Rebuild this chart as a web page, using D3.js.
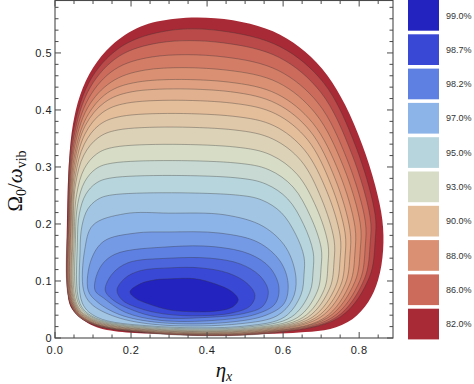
<!DOCTYPE html>
<html>
<head>
<meta charset="utf-8">
<script src="https://cdn.jsdelivr.net/npm/d3@7"></script>
<style>
  body { margin: 0; background: #fff; }
  svg { display: block; }
</style>
</head>
<body>
<div id="chart"></div>
<script>
// fidelity (%) at each contour line, outermost first
const levelValues = [82, 84, 86, 87, 88, 88.7, 89.4, 90, 91, 92, 93, 94, 95, 96, 97, 97.6, 98.2, 98.45, 98.7, 99];

// contour lines, [eta_x, Omega0/omega_vib], same order as levelValues
const contourRings = [
  [[0.513,0.0077],[0.250,0.0077],[0.158,0.012],[0.118,0.017],[0.087,0.026],[0.061,0.039],[0.040,0.056],[0.033,0.084],[0.031,0.154],[0.032,0.225],[0.037,0.312],[0.047,0.374],[0.066,0.426],[0.100,0.474],[0.150,0.514],[0.224,0.546],[0.316,0.560],[0.421,0.561],[0.513,0.551],[0.592,0.532],[0.658,0.502],[0.716,0.461],[0.763,0.409],[0.808,0.339],[0.842,0.268],[0.861,0.207],[0.863,0.154],[0.850,0.102],[0.824,0.063],[0.782,0.033],[0.724,0.016],[0.658,0.0105],[0.592,0.0079]],
  [[0.566,0.0084],[0.250,0.0084],[0.088,0.027],[0.042,0.056],[0.034,0.221],[0.048,0.362],[0.097,0.457],[0.179,0.513],[0.297,0.539],[0.434,0.539],[0.592,0.511],[0.706,0.448],[0.791,0.336],[0.842,0.216],[0.842,0.172],[0.827,0.107],[0.750,0.037]],
  [[0.561,0.0089],[0.250,0.0089],[0.089,0.027],[0.043,0.056],[0.035,0.218],[0.049,0.351],[0.093,0.440],[0.168,0.494],[0.276,0.518],[0.439,0.518],[0.590,0.492],[0.699,0.431],[0.780,0.324],[0.829,0.211],[0.829,0.167],[0.814,0.104],[0.739,0.036]],
  [[0.555,0.0096],[0.250,0.0096],[0.091,0.028],[0.044,0.057],[0.037,0.214],[0.049,0.338],[0.089,0.421],[0.157,0.471],[0.255,0.493],[0.445,0.493],[0.588,0.469],[0.692,0.412],[0.769,0.312],[0.816,0.205],[0.816,0.161],[0.802,0.101],[0.729,0.036]],
  [[0.550,0.0104],[0.250,0.0104],[0.092,0.028],[0.046,0.057],[0.038,0.211],[0.049,0.326],[0.086,0.404],[0.148,0.449],[0.237,0.470],[0.450,0.470],[0.587,0.448],[0.685,0.394],[0.759,0.300],[0.803,0.200],[0.803,0.156],[0.789,0.099],[0.718,0.036]],
  [[0.545,0.0111],[0.250,0.0111],[0.093,0.029],[0.048,0.057],[0.040,0.207],[0.050,0.315],[0.083,0.387],[0.138,0.430],[0.218,0.449],[0.455,0.449],[0.584,0.428],[0.678,0.377],[0.748,0.289],[0.789,0.195],[0.789,0.151],[0.776,0.096],[0.708,0.035]],
  [[0.539,0.0119],[0.250,0.0119],[0.094,0.029],[0.049,0.058],[0.042,0.204],[0.051,0.305],[0.080,0.373],[0.130,0.413],[0.203,0.432],[0.461,0.432],[0.583,0.411],[0.671,0.363],[0.737,0.279],[0.776,0.189],[0.776,0.147],[0.763,0.094],[0.697,0.036]],
  [[0.534,0.0128],[0.250,0.0128],[0.096,0.030],[0.051,0.058],[0.043,0.200],[0.052,0.294],[0.079,0.358],[0.124,0.395],[0.189,0.412],[0.466,0.412],[0.581,0.393],[0.664,0.348],[0.726,0.269],[0.763,0.184],[0.763,0.144],[0.751,0.092],[0.687,0.036]],
  [[0.529,0.0139],[0.250,0.0139],[0.097,0.031],[0.053,0.058],[0.046,0.196],[0.053,0.282],[0.077,0.340],[0.117,0.374],[0.176,0.389],[0.468,0.389],[0.577,0.372],[0.656,0.330],[0.715,0.257],[0.750,0.179],[0.750,0.140],[0.738,0.090],[0.676,0.036]],
  [[0.524,0.0149],[0.250,0.0149],[0.099,0.032],[0.055,0.059],[0.048,0.193],[0.054,0.269],[0.076,0.321],[0.113,0.351],[0.166,0.365],[0.471,0.365],[0.573,0.349],[0.647,0.311],[0.701,0.244],[0.734,0.172],[0.734,0.135],[0.723,0.088],[0.664,0.036]],
  [[0.518,0.0161],[0.250,0.0161],[0.101,0.033],[0.058,0.059],[0.051,0.186],[0.057,0.252],[0.077,0.297],[0.110,0.323],[0.158,0.335],[0.474,0.335],[0.568,0.321],[0.637,0.287],[0.688,0.228],[0.718,0.165],[0.718,0.130],[0.708,0.085],[0.652,0.036]],
  [[0.513,0.0175],[0.250,0.0175],[0.104,0.034],[0.062,0.060],[0.054,0.179],[0.060,0.236],[0.078,0.274],[0.108,0.297],[0.153,0.307],[0.476,0.307],[0.563,0.295],[0.626,0.265],[0.672,0.213],[0.700,0.158],[0.700,0.125],[0.690,0.082],[0.638,0.036]],
  [[0.508,0.0193],[0.250,0.0193],[0.107,0.035],[0.066,0.060],[0.059,0.168],[0.064,0.218],[0.081,0.252],[0.109,0.272],[0.150,0.281],[0.476,0.281],[0.555,0.270],[0.612,0.244],[0.654,0.199],[0.679,0.151],[0.679,0.119],[0.670,0.080],[0.622,0.037]],
  [[0.503,0.0211],[0.250,0.0211],[0.112,0.036],[0.072,0.061],[0.066,0.154],[0.071,0.197],[0.086,0.226],[0.112,0.243],[0.150,0.251],[0.474,0.251],[0.544,0.242],[0.595,0.220],[0.633,0.182],[0.655,0.142],[0.655,0.112],[0.647,0.076],[0.604,0.037]],
  [[0.075,0.084],[0.078,0.154],[0.100,0.198],[0.184,0.218],[0.300,0.219],[0.447,0.216],[0.547,0.196],[0.608,0.158],[0.634,0.104],[0.624,0.067],[0.584,0.039],[0.487,0.025],[0.276,0.023],[0.160,0.037],[0.095,0.060]],
  [[0.087,0.084],[0.095,0.137],[0.129,0.170],[0.211,0.184],[0.300,0.186],[0.434,0.184],[0.534,0.168],[0.592,0.135],[0.613,0.096],[0.603,0.061],[0.555,0.040],[0.447,0.027],[0.276,0.027],[0.170,0.041],[0.110,0.064]],
  [[0.105,0.084],[0.118,0.123],[0.158,0.147],[0.300,0.160],[0.421,0.160],[0.513,0.147],[0.566,0.123],[0.589,0.089],[0.579,0.060],[0.530,0.042],[0.421,0.031],[0.276,0.031],[0.185,0.045],[0.128,0.070]],
  [[0.132,0.084],[0.150,0.112],[0.192,0.132],[0.300,0.140],[0.408,0.140],[0.487,0.130],[0.539,0.109],[0.561,0.082],[0.547,0.056],[0.497,0.043],[0.395,0.036],[0.276,0.036],[0.200,0.050],[0.150,0.068]],
  [[0.163,0.084],[0.184,0.105],[0.224,0.118],[0.300,0.123],[0.382,0.123],[0.455,0.114],[0.505,0.096],[0.526,0.075],[0.513,0.056],[0.466,0.044],[0.382,0.039],[0.289,0.042],[0.218,0.053],[0.176,0.067]],
  [[0.197,0.081],[0.224,0.095],[0.263,0.102],[0.308,0.104],[0.368,0.104],[0.421,0.095],[0.466,0.081],[0.482,0.067],[0.466,0.054],[0.421,0.047],[0.368,0.046],[0.303,0.049],[0.245,0.060],[0.211,0.070]]
];

// legend, top to bottom
const legendValues = [99.0, 98.7, 98.2, 97.0, 95.0, 93.0, 90.0, 88.0, 86.0, 82.0];
const legendColors = ['#2323bf', '#3a48d6', '#5d80e2', '#8db4e8', '#b7d5dd', '#d6dcc6', '#e4bd9a', '#da9072', '#cc6a5c', '#a82a36'];

const xTicks = [0, 0.2, 0.4, 0.6, 0.8];
const xTickLabels = ['0.0', '0.2', '0.4', '0.6', '0.8'];
const yTicks = [0, 0.1, 0.2, 0.3, 0.4, 0.5];
const yTickLabels = ['0', '0.1', '0.2', '0.3', '0.4', '0.5'];

// Dimensions
let dimensions = {
    width: 474,
    height: 384,
    margin: { top: 0.5, left: 55 },
    ctrWidth: 338,
    ctrHeight: 337.5
}

const svg = d3.select('#chart')
    .append('svg')
    .attr('width', dimensions.width)
    .attr('height', dimensions.height)

svg.append('rect')
    .attr('width', dimensions.width)
    .attr('height', dimensions.height)
    .attr('fill', '#fff')

const xScale = d3.scaleLinear()
    .domain([0, 0.889])
    .range([dimensions.margin.left, dimensions.margin.left + dimensions.ctrWidth])
const yScale = d3.scaleLinear()
    .domain([0, 0.592])
    .range([dimensions.margin.top + dimensions.ctrHeight, dimensions.margin.top])

const colorScale = d3.scaleLinear()
    .domain(legendValues.slice().reverse())
    .range(legendColors.slice().reverse())
    .interpolate(d3.interpolateRgb)

svg.append('clipPath').attr('id', 'plotClip')
  .append('rect')
    .attr('x', xScale(0)).attr('y', yScale(0.592))
    .attr('width', dimensions.ctrWidth).attr('height', dimensions.ctrHeight)

// filled contour bands, painted outside-in
const ringLine = d3.line()
    .x(d => xScale(d[0]))
    .y(d => yScale(d[1]))
    .curve(d3.curveCatmullRomClosed.alpha(0.5))

svg.append('g')
    .attr('clip-path', 'url(#plotClip)')
  .selectAll('path')
    .data(contourRings)
    .join('path')
    .attr('d', ringLine)
    .attr('fill', (d, i) => colorScale(levelValues[i]))
    .attr('stroke', (d, i) => i === 0 ? 'none' : '#333')
    .attr('stroke-opacity', 0.55)
    .attr('stroke-width', 0.65)

// frame and inward ticks on all four sides
const frameColor = '#4a4a4a'
const axes = svg.append('g').attr('stroke', frameColor).attr('fill', 'none')
axes.append('rect')
    .attr('x', xScale(0)).attr('y', yScale(0.592))
    .attr('width', dimensions.ctrWidth).attr('height', dimensions.ctrHeight)
    .attr('stroke-width', 1.1)

const xMinor = xScale.ticks(18).filter(t => !xTicks.some(v => Math.abs(v - t) < 1e-6))
const yMinor = yScale.ticks(30).filter(t => !yTicks.some(v => Math.abs(v - t) < 1e-6))
const xAll = xTicks.map(v => [v, 6]).concat(xMinor.map(v => [v, 3.5]))
const yAll = yTicks.map(v => [v, 6]).concat(yMinor.map(v => [v, 3.5]))

axes.selectAll('line.xb').data(xAll).join('line').attr('class', 'xb')
    .attr('x1', d => xScale(d[0])).attr('x2', d => xScale(d[0]))
    .attr('y1', yScale(0)).attr('y2', d => yScale(0) - d[1])
axes.selectAll('line.xt').data(xAll).join('line').attr('class', 'xt')
    .attr('x1', d => xScale(d[0])).attr('x2', d => xScale(d[0]))
    .attr('y1', yScale(0.592)).attr('y2', d => yScale(0.592) + d[1])
axes.selectAll('line.yl').data(yAll).join('line').attr('class', 'yl')
    .attr('y1', d => yScale(d[0])).attr('y2', d => yScale(d[0]))
    .attr('x1', xScale(0)).attr('x2', d => xScale(0) + d[1])
axes.selectAll('line.yr').data(yAll).join('line').attr('class', 'yr')
    .attr('y1', d => yScale(d[0])).attr('y2', d => yScale(d[0]))
    .attr('x1', xScale(0.889)).attr('x2', d => xScale(0.889) - d[1])

const labelFont = '"Liberation Sans", Arial, sans-serif'
svg.append('g').selectAll('text').data(xTicks).join('text')
    .attr('x', d => xScale(d))
    .attr('y', 354)
    .attr('text-anchor', 'middle')
    .style('font-family', labelFont).style('font-size', '11px')
    .style('letter-spacing', '0.5px').attr('fill', '#222')
    .text((d, i) => xTickLabels[i])
svg.append('g').selectAll('text').data(yTicks).join('text')
    .attr('x', 52)
    .attr('y', d => yScale(d))
    .attr('dy', '0.36em')
    .attr('text-anchor', 'end')
    .style('font-family', labelFont).style('font-size', '11px')
    .style('letter-spacing', '0.5px').attr('fill', '#222')
    .text((d, i) => yTickLabels[i])

// axis titles
const serif = '"Liberation Serif", "DejaVu Serif", serif'
const xTitle = svg.append('text')
    .attr('x', 224).attr('y', 377)
    .attr('text-anchor', 'middle')
    .style('font-family', serif).style('font-size', '21px').attr('fill', '#111')
xTitle.append('tspan').style('font-style', 'italic').text('η')
xTitle.append('tspan').style('font-style', 'italic').style('font-size', '14px').attr('dy', 4).text('x')

const yTitle = svg.append('text')
    .attr('transform', 'translate(22,181) rotate(-90)')
    .attr('text-anchor', 'middle')
    .style('font-family', serif).style('font-size', '21px').attr('fill', '#111')
yTitle.append('tspan').text('Ω')
yTitle.append('tspan').style('font-size', '14px').attr('dy', 4).text('0')
yTitle.append('tspan').attr('dy', -4).text('/')
yTitle.append('tspan').style('font-style', 'italic').text('ω')
yTitle.append('tspan').style('font-size', '14px').attr('dy', 4).text('vib')

// legend
const legend = svg.append('g')
legend.selectAll('rect').data(legendValues).join('rect')
    .attr('x', 408).attr('y', (d, i) => i * 34.3)
    .attr('width', 31).attr('height', 30.7)
    .attr('fill', (d, i) => legendColors[i])
legend.selectAll('text').data(legendValues).join('text')
    .attr('x', 446).attr('y', (d, i) => i * 34.3 + 15.4)
    .attr('dy', '0.35em')
    .style('font-family', labelFont).style('font-size', '9px').attr('fill', '#333')
    .text(d => d.toFixed(1) + '%')
</script>
</body>
</html>
